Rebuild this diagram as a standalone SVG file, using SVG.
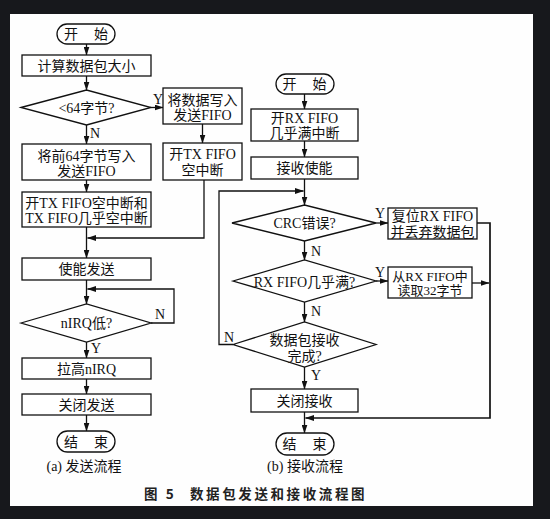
<svg xmlns="http://www.w3.org/2000/svg" width="550" height="519" viewBox="0 0 550 519">
<defs>
<marker id="ah" markerUnits="userSpaceOnUse" markerWidth="9" markerHeight="6" refX="8.5" refY="3" orient="auto">
<path d="M0,0 L9,3 L0,6 z" fill="#111"/>
</marker>
<style>
.box{fill:#fff;stroke:#111;stroke-width:1.3}
.ln{fill:none;stroke:#111;stroke-width:1.3}
.ar{fill:none;stroke:#111;stroke-width:1.3;marker-end:url(#ah)}
text{font-family:"Liberation Serif","Noto Sans CJK SC",serif;font-size:14px;fill:#111;text-anchor:middle}
.lb{font-size:14px;text-anchor:start}
.sm{font-size:13px}
.cap{font-family:"Noto Sans CJK SC","Liberation Sans",sans-serif;font-size:13.5px;font-weight:bold;fill:#222;text-anchor:start;letter-spacing:2.6px}
</style>
</defs>
<rect x="0" y="0" width="550" height="519" fill="#17181c"/>
<rect x="10" y="14" width="523" height="492" fill="#fefefe"/>

<g id="connectors">
<!-- left -->
<line class="ar" x1="86.5" y1="44" x2="86.5" y2="55"/>
<line class="ar" x1="86.5" y1="76" x2="86.5" y2="90"/>
<line class="ar" x1="151" y1="107.5" x2="163" y2="107.5"/>
<line class="ar" x1="202.5" y1="124" x2="202.5" y2="143"/>
<line class="ar" x1="86.5" y1="125" x2="86.5" y2="144"/>
<line class="ar" x1="86.5" y1="180" x2="86.5" y2="192"/>
<line class="ar" x1="86.5" y1="227" x2="86.5" y2="258"/>
<polyline class="ar" points="204,180 204,238 87.5,238"/>
<line class="ar" x1="86.5" y1="280" x2="86.5" y2="304"/>
<polyline class="ar" points="151,323 174,323 174,289 87.5,289"/>
<line class="ar" x1="86.5" y1="342" x2="86.5" y2="358"/>
<line class="ar" x1="86.5" y1="379" x2="86.5" y2="394"/>
<line class="ar" x1="86.5" y1="415" x2="86.5" y2="431"/>
<!-- right -->
<line class="ar" x1="304.5" y1="94" x2="304.5" y2="109"/>
<line class="ar" x1="304.5" y1="141" x2="304.5" y2="157"/>
<line class="ar" x1="304.5" y1="179" x2="304.5" y2="205"/>
<polyline class="ar" points="233,344.5 219,344.5 219,191 303.5,191"/>
<line class="ar" x1="376" y1="223" x2="388" y2="223"/>
<polyline class="ar" points="477,223 490,223 490,418 305.5,418" style="stroke-width:1.7"/>
<line class="ar" x1="304.5" y1="241" x2="304.5" y2="260"/>
<line class="ar" x1="376" y1="281" x2="388" y2="281"/>
<line class="ar" x1="472" y1="283" x2="489" y2="283"/>
<line class="ar" x1="304.5" y1="302" x2="304.5" y2="322"/>
<line class="ar" x1="304.5" y1="367" x2="304.5" y2="389"/>
<line class="ar" x1="304.5" y1="412" x2="304.5" y2="433"/>
<!-- labels -->
<text class="lb" x="153" y="104">Y</text>
<text class="lb" x="90" y="138">N</text>
<text class="lb" x="155" y="319">N</text>
<text class="lb" x="91" y="353">Y</text>
<text class="lb" x="375" y="218">Y</text>
<text class="lb" x="311" y="256">N</text>
<text class="lb" x="375" y="277">Y</text>
<text class="lb" x="311" y="316">N</text>
<text class="lb" x="224" y="342">N</text>
<text class="lb" x="311" y="380">Y</text>
</g>

<g id="a_start"><rect class="box" x="57" y="24" width="58" height="20" rx="10"/><text x="86.5" y="39" letter-spacing="1">开　始</text></g>
<g id="a_calc"><rect class="box" x="22" y="55" width="129" height="21"/><text x="86.5" y="70.5">计算数据包大小</text></g>
<g id="a_lt64"><polygon class="box" points="21,107.5 86.5,90 151,107.5 86.5,125"/><text x="86.5" y="112.5">&lt;64字节?</text></g>
<g id="a_write"><rect class="box" x="163" y="88" width="79" height="36"/><text x="202.5" y="104.5">将数据写入</text><text x="202.5" y="120">发送FIFO</text></g>
<g id="a_txempty"><rect class="box" x="163" y="143" width="79" height="37"/><text x="202.5" y="159">开TX FIFO</text><text x="202.5" y="175">空中断</text></g>
<g id="a_write64"><rect class="box" x="22" y="144" width="129" height="36"/><text x="86.5" y="160.5">将前64字节写入</text><text x="86.5" y="176">发送FIFO</text></g>
<g id="a_txint"><rect class="box" x="22" y="192" width="129" height="35"/><text x="86.5" y="207.5">开TX FIFO空中断和</text><text x="86.5" y="223">TX FIFO几乎空中断</text></g>
<g id="a_enable"><rect class="box" x="22" y="258" width="129" height="22"/><text x="86.5" y="274">使能发送</text></g>
<g id="a_nirq"><polygon class="box" points="21,323 86.5,304 151,323 86.5,342"/><text x="86.5" y="328">nIRQ低?</text></g>
<g id="a_raise"><rect class="box" x="22" y="358" width="129" height="21"/><text x="86.5" y="373.5">拉高nIRQ</text></g>
<g id="a_close"><rect class="box" x="22" y="394" width="129" height="21"/><text x="86.5" y="409.5">关闭发送</text></g>
<g id="a_end"><rect class="box" x="57" y="431" width="58" height="21" rx="10.5"/><text x="86.5" y="446.5" letter-spacing="1">结　束</text></g>
<g id="a_caption"><text x="84" y="471">(a) 发送流程</text></g>

<g id="b_start"><rect class="box" x="276" y="74" width="58" height="20" rx="10"/><text x="305" y="89" letter-spacing="1">开　始</text></g>
<g id="b_rxint"><rect class="box" x="251" y="109" width="107" height="32"/><text x="304.5" y="123">开RX FIFO</text><text x="304.5" y="138">几乎满中断</text></g>
<g id="b_enable"><rect class="box" x="251" y="157" width="107" height="22"/><text x="304.5" y="173">接收使能</text></g>
<g id="b_crc"><polygon class="box" points="232,223 304.5,205 376,223 304.5,241"/><text x="304.5" y="228">CRC错误?</text></g>
<g id="b_reset"><rect class="box" x="388" y="208" width="89" height="31"/><text x="432.5" y="221">复位RX FIFO</text><text x="432.5" y="236.5">并丢弃数据包</text></g>
<g id="b_full"><polygon class="box" points="233,281 304.5,260 376,281 304.5,302"/><text x="304.5" y="286.5">RX FIFO几乎满?</text></g>
<g id="b_read"><rect class="box" x="388" y="267" width="84" height="31"/><text class="sm" x="430" y="281">从RX FIFO中</text><text class="sm" x="430" y="295">读取32字节</text></g>
<g id="b_done"><polygon class="box" points="233,344.5 304.5,322 376,344.5 304.5,367"/><text x="304.5" y="345">数据包接收</text><text x="304.5" y="361">完成?</text></g>
<g id="b_close"><rect class="box" x="251" y="389" width="107" height="23"/><text x="304.5" y="405.5">关闭接收</text></g>
<g id="b_end"><rect class="box" x="276" y="433" width="58" height="22" rx="11"/><text x="305" y="449" letter-spacing="1">结　束</text></g>
<g id="b_caption"><text x="305" y="471">(b) 接收流程</text></g>

<text class="cap" y="499"><tspan x="144">图 5</tspan><tspan x="190">数据包发送和接收流程图</tspan></text>
</svg>
